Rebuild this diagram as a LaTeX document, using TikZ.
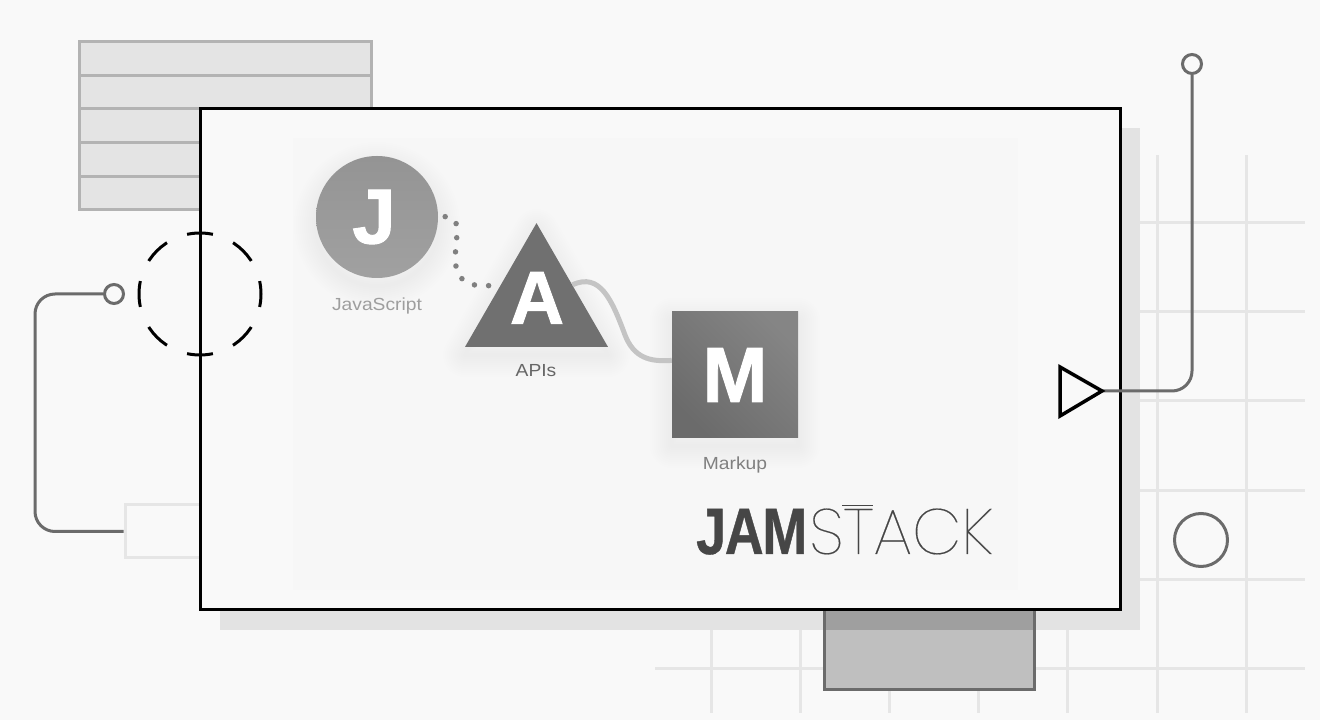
\documentclass[tikz,border=0pt]{standalone}
\usepackage{fontspec}
\setmainfont{Liberation Sans}
\newfontfamily\labelfont[FakeStretch=1.1]{Liberation Sans}
\newfontfamily\letterfont[FakeBold=1.2]{Liberation Sans Bold}
\newfontfamily\jamfont[FakeStretch=0.82,FakeBold=0.6,LetterSpace=-2]{Liberation Sans Bold}
\newfontfamily\stackfont[FakeBold=0.25]{Poppins Thin}
\usetikzlibrary{shapes.geometric}
\definecolor{pageColor}{RGB}{249,249,249}
\definecolor{panelColor}{RGB}{247,247,247}
\definecolor{gridColor}{RGB}{230,230,230}
\definecolor{shadowColor}{RGB}{227,227,227}
\definecolor{wireColor}{RGB}{107,107,107}
\definecolor{rowColor}{RGB}{228,228,228}
\definecolor{rowEdge}{RGB}{179,179,179}
\definecolor{plinthColor}{RGB}{191,191,191}
\definecolor{plinthDark}{RGB}{159,159,159}
\definecolor{linkColor}{RGB}{196,196,196}
\definecolor{logoColor}{RGB}{70,70,70}
\tikzset{
  gridline/.style={draw=gridColor,line width=3pt},
  wireline/.style={draw=wireColor,line width=3pt,rounded corners=20pt},
  portnode/.style={circle,draw=wireColor,fill=pageColor,line width=3pt,inner sep=0pt,minimum size=19pt},
  letternode/.style={text=white,inner sep=0pt,font=\letterfont\fontsize{#1}{#1}\selectfont},
  caption/.style={inner sep=0pt,font=\labelfont\fontsize{17.5}{20}\selectfont},
}
\newcommand{\softshadow}[1]{\foreach \s in {4,8,...,44}{\path[draw=black,line width=\s pt,line join=round,draw opacity=0.005] #1;}}
\begin{document}
\begin{tikzpicture}[x=1pt,y=1pt]
\path[use as bounding box,fill=pageColor] (0,0) rectangle (1320,720);

% grid behind the card
\foreach \gx in {711,800,889,978,1067,1157,1246}
  \path[gridline] (\gx,7) -- (\gx,565);
\foreach \gy in {51,140,229,319,408,497}
  \path[gridline] (655,\gy) -- (1305,\gy);

% striped table
\path[fill=rowColor,draw=rowEdge,line width=3pt] (79,678) rectangle (371,510);
\foreach \ry in {644.5,611,577,543.5}
  \path[draw=rowEdge,line width=3pt] (79,\ry) -- (371,\ry);

\node[draw=gridColor,line width=3pt,minimum width=75pt,minimum height=53pt,inner sep=0pt] (stubbox) at (162.5,188.5) {};

% card
\path[fill=shadowColor] (220,592) rectangle (1140,90);
\path[fill=plinthColor] (824,110) rectangle (1034,30);
\path[fill=plinthDark] (824,110) rectangle (1034,90);
\path[draw=wireColor,line width=3pt] (824,110) rectangle (1034,30);
\path[fill=pageColor,draw=black,line width=3pt] (200,611) rectangle (1120,110);
\path[fill=panelColor] (293,582) rectangle (1018,130);

% soft shadows
\softshadow{(377,495) circle (61)}
\softshadow{(536.5,489) -- (465,365) -- (608,365) -- cycle}
\softshadow{(672,400) rectangle (798,274)}

\node[circle,inner sep=0pt,minimum size=122pt,top color=black!42,bottom color=black!37] (jsnode) at (377,503) {};
\node[regular polygon,regular polygon sides=3,inner sep=0pt,minimum size=165pt,fill=black!56] (apinode) at (536.5,414.4) {};
\node[inner sep=0pt,minimum size=126pt,left color=black!48,right color=black!58,shading angle=-45] (mknode) at (735,345) {};

\draw[linkColor,line width=5pt] (apinode.side 3) .. controls (600,448) and (612,420) .. (625,385) .. controls (634,362) and (650,358) .. (mknode.167);
\draw[black!50,line width=5.5pt,line cap=round,dash pattern=on 0pt off 14.2pt,shorten >=11pt,shorten <=7pt] (jsnode.east) .. controls (478,505) and (425,430) .. (apinode.side 1);

% letters
\node[letternode=78] (jletter) at (374,503) {J};
\node[letternode=75] (aletter) at (537,422) {A};
\node[letternode=78] (mletter) at (735,345) {M};
\node[caption,text=black!38] (jscaption) at (377,414) {JavaScript};
\node[caption,text=black!60] (apicaption) at (536,349.5) {APIs};
\node[caption,text=black!50] (mkcaption) at (735,255.5) {Markup};

\node[inner sep=0pt,anchor=base west,text=logoColor] (logo) at (696,166) {{\jamfont\fontsize{65.6}{66}\selectfont JAM}\kern2pt{\stackfont\fontsize{64}{64}\selectfont STACK}};
\path[draw=logoColor,line width=1pt] (842,214.5) -- (873,214.5);

% ports and wires
\node[portnode] (leftport) at (114,426) {};
\node[portnode] (topport) at (1192,656) {};
\coordinate (outtip) at (1102,329);
\path[wireline] (leftport.west) -- (35,426) -- (35,188.5) -- (stubbox.west);
\path[wireline] (topport.south) -- (1192,329) -- (outtip);
\path[draw=black,fill=pageColor,line width=3.5pt,line join=miter] (1060,353) -- (outtip) -- (1060,304) -- cycle;
\node[circle,draw=wireColor,line width=3pt,inner sep=0pt,minimum size=53pt] (ringnode) at (1201,180) {};
\path[draw=black,line width=3pt,dash pattern=on 26pt off 21.9pt,dash phase=13pt] (200,426) circle (61);
\end{tikzpicture}
\end{document}
